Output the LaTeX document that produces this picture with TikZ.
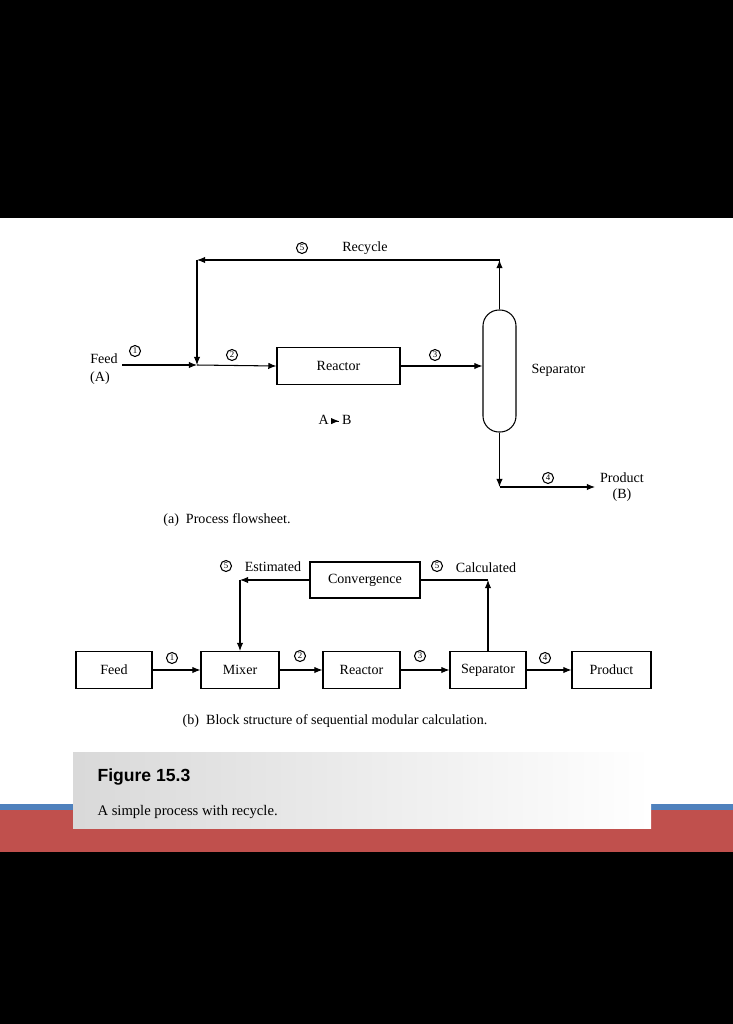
\documentclass[tikz,border=0pt]{standalone}
\usepackage{fontspec}
\setmainfont{Liberation Serif}
\newfontfamily\headfont{Liberation Sans}
\usetikzlibrary{arrows.meta}
\definecolor{bandred}{HTML}{C0504D}
\definecolor{bandblue}{HTML}{4F81BD}
\tikzset{
  blk/.style={draw=black,fill=white,rectangle,minimum height=37\pxu,inner sep=0pt,font=\fontsize{12}{13}\selectfont},
  num/.style={draw=black,circle,inner sep=0.4pt,minimum size=11\pxu,font=\fontsize{7.5}{7.5}\selectfont},
  lbl/.style={font=\fontsize{12}{13}\selectfont,inner sep=0pt},
  flow/.style={-{Latex[length=7pt,width=5.5pt]},line width=0.9pt}
}
\newlength{\pxu}\setlength{\pxu}{0.03cm}
\begin{document}
\begin{tikzpicture}[x=0.03cm,y=-0.03cm, line width=0.9pt]
	\fill[black] (0,0) rectangle (733,1024);
	\useasboundingbox (0,0) rectangle (733,1024);
	\fill[white] (0,218) rectangle (733,852);
	\fill[bandblue] (0,804) rectangle (733,811);
	\fill[bandred] (0,810) rectangle (733,852);
	\shade[left color=gray!30,right color=white] (73,752) rectangle (651,828);
	\node[lbl,anchor=west,font=\headfont\bfseries\fontsize{15}{16}\selectfont] (fig) at (97,777) {Figure 15.3};
	\node[lbl,anchor=west,font=\fontsize{12.5}{13}\selectfont] (cap) at (97,812) {A simple process with recycle.};
	% (a) process flowsheet
	\node[lbl] (feed) at (104,359) {Feed};
	\node[lbl] (fa) at (100,378) {(A)};
	\coordinate (fin) at (122,365);
	\coordinate (junc) at (197,365);
	\coordinate (rtop) at (197,260);
	\node[blk,minimum width=123\pxu] (reac) at (338.5,366) {Reactor};
	\node[draw=black,rounded corners=16\pxu,minimum width=33\pxu,minimum height=122\pxu,inner sep=0pt] (sep) at (499.5,371) {};
	\node[lbl,anchor=west] (sepl) at (531,370) {Separator};
	\coordinate (stop) at (499.5,260);
	\coordinate (sbot) at (499.5,487);
	\coordinate (pout) at (595,487);
	\node[lbl] (prod) at (622,478) {Product};
	\node[lbl] (pb) at (622,495) {(B)};
	\node[lbl] (rxn) at (335,420) {A\,\tikz[baseline=-3pt]\draw[flow](0,0)--(0.6,0);\,B};
	\node[num] (n1) at (135,351) {1};
	\node[num] (n2) at (232,355) {2};
	\node[num] (n3) at (435,355) {3};
	\node[num] (n4) at (548,478) {4};
	\node[num] (n5) at (302,248) {5};
	\node[lbl] (rec) at (365,248) {Recycle};
	\draw[flow] (fin) -- (junc);
	\draw[flow] (junc) -- (reac.west);
	\draw[flow] (reac.east) -- (sep.west |- reac.east);
	\draw[flow] (sep.north) -- (stop);
	\draw[flow] (stop) -- (rtop);
	\draw[flow] (rtop) -- (junc);
	\draw[flow] (sep.south) -- (sbot);
	\draw[flow] (sbot) -- (pout);
	\node[lbl] (capa) at (227,520) {(a)\enspace Process flowsheet.};
	% (b) block structure
	\node[blk,minimum width=76\pxu] (bfeed) at (114,670) {Feed};
	\node[blk,minimum width=78\pxu] (mix) at (240,670) {Mixer};
	\node[blk,minimum width=77\pxu] (breac) at (361.5,670) {Reactor};
	\node[blk,minimum width=76\pxu] (bsep) at (488,670) {Separator};
	\node[blk,minimum width=79\pxu] (bprod) at (611.5,670) {Product};
	\node[blk,minimum width=110\pxu,minimum height=36\pxu] (conv) at (365,580) {Convergence};
	\coordinate (el) at (240,580);
	\coordinate (cr) at (488,580);
	\node[num] (m1) at (172,658) {1};
	\node[num] (m2) at (300,656) {2};
	\node[num] (m3) at (420,656) {3};
	\node[num] (m4) at (545,658) {4};
	\node[num] (m5) at (226,566) {5};
	\node[num] (m6) at (437,566) {5};
	\node[lbl] (est) at (273,567) {Estimated};
	\node[lbl] (calc) at (486,568) {Calculated};
	\draw[flow] (bfeed) -- (mix);
	\draw[flow] (mix) -- (breac);
	\draw[flow] (breac) -- (bsep);
	\draw[flow] (bsep) -- (bprod);
	\draw[flow] (conv.west) -- (el);
	\draw[flow] (el) -- (mix.north);
	\draw[flow] (bsep.north) -- (cr);
	\draw (cr) -- (conv.east);
	\node[lbl] (capb) at (335,721) {(b)\enspace Block structure of sequential modular calculation.};
\end{tikzpicture}
\end{document}
